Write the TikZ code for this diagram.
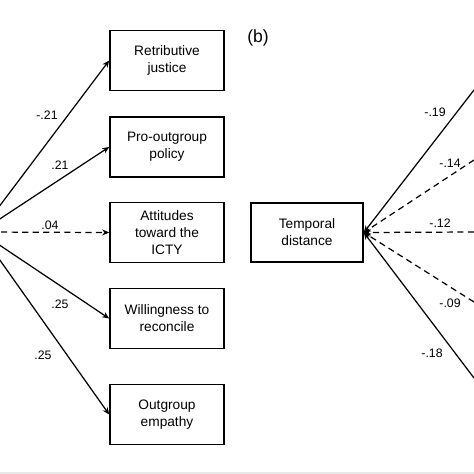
\documentclass[tikz,border=0pt]{standalone}
\usepackage{fontspec}
\setmainfont{Liberation Sans}
\usetikzlibrary{arrows.meta}

\begin{document}
\begin{tikzpicture}[
  x=0.02cm, y=-0.02cm,
  var/.style={draw,line width=0.95pt,minimum width=2.28cm,minimum height=1.2cm,align=center,inner sep=1pt,font=\fontsize{7.8}{9.6}\selectfont},
  coef/.style={font=\fontsize{7}{8}\selectfont,inner sep=1pt},
  effect/.style={-{Stealth[length=1.4mm,width=1.2mm]},line width=0.7pt},
  nseffect/.style={effect,dash pattern=on 3.5pt off 2.5pt}
]
  \useasboundingbox (0,0) rectangle (474,474);
  \clip (0,0) rectangle (474,474);
  \fill[black!9] (0,471.5) rectangle (474,474);

  % panel (a): outcomes on the left
  \node[var] (out-justice) at (167,60.5) {Retributive\\justice};
  \node[var] (out-policy) at (167,147) {Pro-outgroup\\policy};
  \node[var] (out-icty) at (167,232.5) {Attitudes\\toward the\\ICTY};
  \node[var] (out-reconcile) at (167,318.5) {Willingness to\\reconcile};
  \node[var] (out-empathy) at (167,414.5) {Outgroup\\empathy};
  \coordinate (src) at (-20,232);

  \draw[effect] (src) -- (out-justice.west);
  \draw[effect] (src) -- (out-policy.west);
  \draw[nseffect] (src) -- (out-icty.west);
  \draw[effect] (src) -- (out-reconcile.west);
  \draw[effect] (src) -- (out-empathy.west);

  \node[coef] (c-justice) at (47,115) {-.21};
  \node[coef] (c-policy) at (60,165) {.21};
  \node[coef] (c-icty) at (50,225) {.04};
  \node[coef] (c-reconcile) at (60,304) {.25};
  \node[coef] (c-empathy) at (43,355) {.25};

  % panel (b)
  \node[font=\fontsize{10}{12}\selectfont,inner sep=0pt] (panel-b) at (258,38) {(b)};
  \node[var,minimum width=2.24cm,minimum height=1.18cm] (temporal) at (307,232.5) {Temporal\\distance};
  \coordinate (pred-1) at (474,90);
  \coordinate (pred-2) at (474,160);
  \coordinate (pred-3) at (474,232);
  \coordinate (pred-4) at (474,302);
  \coordinate (pred-5) at (474,378);

  \draw[effect] (pred-1) -- (temporal.east);
  \draw[nseffect] (pred-2) -- (temporal.east);
  \draw[nseffect] (pred-3) -- (temporal.east);
  \draw[nseffect] (pred-4) -- (temporal.east);
  \draw[effect] (pred-5) -- (temporal.east);

  \node[coef] (c-pred-1) at (435,112) {-.19};
  \node[coef] (c-pred-2) at (450,163) {-.14};
  \node[coef] (c-pred-3) at (440,223) {-.12};
  \node[coef] (c-pred-4) at (450,303) {-.09};
  \node[coef] (c-pred-5) at (432,353) {-.18};
\end{tikzpicture}
\end{document}
